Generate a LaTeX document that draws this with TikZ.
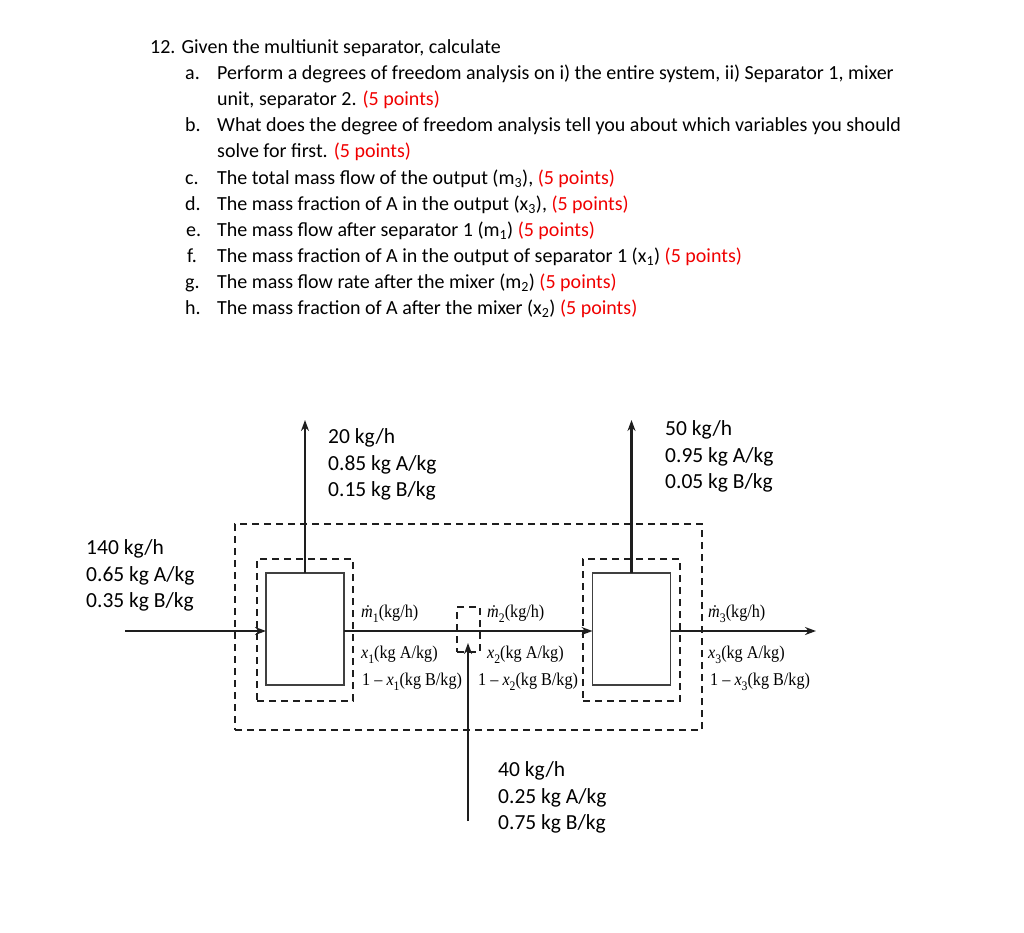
\documentclass[tikz,border=0pt]{standalone}
\usepackage{fontspec}
\setmainfont{Carlito}
\newfontfamily\tms[FakeStretch=0.9]{Liberation Serif}
\usetikzlibrary{arrows.meta}
\definecolor{ptred}{RGB}{240,0,0}
\definecolor{ink}{RGB}{30,30,30}
\newcommand{\mdt}{\textit{ṁ}}
\newcommand{\sbs}[1]{\raisebox{-0.3em}{\fontsize{13}{13}\selectfont #1}}
\begin{document}
\begin{tikzpicture}[x=1pt,y=-1pt,
  q/.style={anchor=base west,inner sep=0pt,font=\fontsize{20}{24}\selectfont},
  lab/.style={anchor=base west,inner sep=0pt,font=\fontsize{21.5}{26}\selectfont},
  stl/.style={anchor=base west,inner sep=0pt,font=\tms\fontsize{18}{22}\selectfont},
  sepbox/.style={draw=ink!85,line width=1.5pt,inner sep=0pt,outer sep=0pt},
  ctrlvol/.style={draw=ink,dash pattern=on 7pt off 5pt,line width=1.4pt,inner sep=0pt,outer sep=0pt},
  flowarrow/.style={draw=ink,line width=2.6pt,-{Stealth[length=11pt,width=8pt]}},
]
\useasboundingbox (0,0) rectangle (1024,932);
% questions
\node[q] (q0) at (150,53) {12. Given the multiunit separator, calculate};
\node[q] (la) at (185,79.5) {a.};
\node[q] (ta) at (217,79.5) {Perform a degrees of freedom analysis on i) the entire system, ii) Separator 1, mixer};
\node[q] (ta2) at (217,105.5) {unit, separator 2. \textcolor{ptred}{(5 points)}};
\node[q] (lb) at (185,131.5) {b.};
\node[q] (tb) at (217,131.5) {What does the degree of freedom analysis tell you about which variables you should};
\node[q] (tb2) at (217,157.5) {solve for first. \textcolor{ptred}{(5 points)}};
\node[q] (lc) at (185,184) {c.};
\node[q] (tc) at (217,184) {The total mass flow of the output (m\textsubscript{3}), \textcolor{ptred}{(5 points)}};
\node[q] (ld) at (185,210.5) {d.};
\node[q] (td) at (217,210.5) {The mass fraction of A in the output (x\textsubscript{3}), \textcolor{ptred}{(5 points)}};
\node[q] (le) at (186,236.5) {e.};
\node[q] (te) at (217,236.5) {The mass flow after separator 1 (m\textsubscript{1}) \textcolor{ptred}{(5 points)}};
\node[q] (lf) at (187,262.5) {f.};
\node[q] (tf) at (217,262.5) {The mass fraction of A in the output of separator 1 (x\textsubscript{1}) \textcolor{ptred}{(5 points)}};
\node[q] (lg) at (185,288.5) {g.};
\node[q] (tg) at (217,288.5) {The mass flow rate after the mixer (m\textsubscript{2}) \textcolor{ptred}{(5 points)}};
\node[q] (lh) at (185,314.5) {h.};
\node[q] (th) at (217,314.5) {The mass fraction of A after the mixer (x\textsubscript{2}) \textcolor{ptred}{(5 points)}};
% boundaries and units
\node[ctrlvol,minimum width=467pt,minimum height=206pt] (sys) at (468.5,627) {};
\node[ctrlvol,minimum width=96pt,minimum height=142pt] (cv1) at (305,630) {};
\node[ctrlvol,minimum width=97pt,minimum height=142pt] (cv2) at (631.5,630) {};
\node[ctrlvol,minimum width=23pt,minimum height=45pt] (mix) at (468.5,629.5) {};
\node[sepbox,fill=white,minimum width=78pt,minimum height=112pt] (s1) at (305,629) {};
\node[sepbox,fill=white,minimum width=78pt,minimum height=112pt] (s2) at (631.5,629) {};
% streams
\coordinate (feedin) at (125,631);
\coordinate (top1) at (305,420);
\coordinate (top2) at (631.5,420);
\coordinate (prod) at (816,631);
\coordinate (feed2) at (468,821);
\coordinate (mixtip) at (468,643);
\draw[flowarrow] (feedin) -- (feedin -| s1.west);
\draw[flowarrow] (s1.north) -- (top1);
\draw[flowarrow] (s2.north) -- (top2);
\draw[flowarrow] (s1.east |- feedin) -- (s2.west |- feedin);
\draw[flowarrow] (s2.east |- feedin) -- (prod);
\draw[flowarrow] (feed2) -- (mixtip);
% stream data
\node[lab] (p1a) at (328,443) {20 kg/h};
\node[lab] (p1b) at (328,470) {0.85 kg A/kg};
\node[lab] (p1c) at (328,496.5) {0.15 kg B/kg};
\node[lab] (p2a) at (665,435.5) {50 kg/h};
\node[lab] (p2b) at (665,462) {0.95 kg A/kg};
\node[lab] (p2c) at (665,488.5) {0.05 kg B/kg};
\node[lab] (f1a) at (86,554.5) {140 kg/h};
\node[lab] (f1b) at (86,581) {0.65 kg A/kg};
\node[lab] (f1c) at (86,607) {0.35 kg B/kg};
\node[lab] (f2a) at (498,776) {40 kg/h};
\node[lab] (f2b) at (498,803) {0.25 kg A/kg};
\node[lab] (f2c) at (498,829.5) {0.75 kg B/kg};
% unknown stream labels
\node[stl] (m1) at (361,617) {\mdt\sbs{1}(kg/h)};
\node[stl] (x1) at (361,658) {\textit{x}\sbs{1}(kg A/kg)};
\node[stl] (y1) at (362,685) {1 – \textit{x}\sbs{1}(kg B/kg)};
\node[stl] (m2) at (487,617) {\mdt\sbs{2}(kg/h)};
\node[stl] (x2) at (487,658) {\textit{x}\sbs{2}(kg A/kg)};
\node[stl] (y2) at (478,685) {1 – \textit{x}\sbs{2}(kg B/kg)};
\node[stl] (m3) at (708,617) {\mdt\sbs{3}(kg/h)};
\node[stl] (x3) at (708,658) {\textit{x}\sbs{3}(kg A/kg)};
\node[stl] (y3) at (710,685) {1 – \textit{x}\sbs{3}(kg B/kg)};
\end{tikzpicture}
\end{document}
